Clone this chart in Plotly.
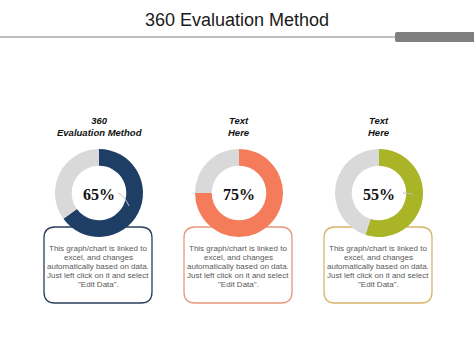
import plotly.graph_objects as go

# ---- data ----
headings = ["360<br>Evaluation Method", "Text<br>Here", "Text<br>Here"]
percents = [65, 75, 55]
ring_colors = ["#1F3E66", "#F47C5B", "#A9B426"]
box_colors = ["#2B3F5C", "#E9967C", "#D7B56A"]
rest_color = "#D9D9D9"
body_lines = ["This graph/chart is linked to", "excel, and changes", "automatically based on data.",
              "Just left click on it and select", "\"Edit Data\"."]
title = "360 Evaluation Method"

W, H = 474, 355
centers_x = [99, 239, 379]
cy = 193
R = 44

fig = go.Figure()

for i, (p, c) in enumerate(zip(percents, ring_colors)):
    cx = centers_x[i]
    fig.add_trace(go.Pie(
        values=[p, 100 - p],
        marker=dict(colors=[c, rest_color], line=dict(width=0)),
        hole=0.62, sort=False, direction="clockwise", rotation=0,
        textinfo="none", hoverinfo="skip", showlegend=False,
        domain=dict(x=[(cx - R) / W, (cx + R) / W], y=[(H - cy - R) / H, (H - cy + R) / H]),
    ))

def rrect(x0, y0, x1, y1, r):
    return (f"M{x0+r},{y0} L{x1-r},{y0} Q{x1},{y0} {x1},{y0+r} L{x1},{y1-r} Q{x1},{y1} {x1-r},{y1} "
            f"L{x0+r},{y1} Q{x0},{y1} {x0},{y1-r} L{x0},{y0+r} Q{x0},{y0} {x0+r},{y0} Z")

shapes = []
annotations = []
# header line and bar
shapes.append(dict(type="line", x0=0, x1=398, y0=37, y1=37, xref="x", yref="y",
                   line=dict(color="#7F7F7F", width=1.2), layer="below"))
shapes.append(dict(type="path", path=rrect(395, 32, 480, 42, 2), xref="x", yref="y",
                   fillcolor="#7F7F7F", line=dict(width=0), layer="below"))

annotations.append(dict(text=title, x=237, y=20, xref="x", yref="y", showarrow=False,
                        font=dict(family="Liberation Sans, Arial", size=18, color="#1A1A1A")))

for i in range(3):
    cx = centers_x[i]
    shapes.append(dict(type="path", path=rrect(cx - 55, 227, cx + 53, 303, 11), xref="x", yref="y",
                       fillcolor="white", line=dict(color=box_colors[i], width=1.3), layer="below"))
    annotations.append(dict(text="<b><i>" + headings[i] + "</i></b>", x=cx, y=126.5, xref="x", yref="y",
                            showarrow=False, align="center",
                            font=dict(family="Liberation Sans, Arial", size=9.5, color="#111111")))
    annotations.append(dict(text="<b>%d%%</b>" % percents[i], x=cx, y=194, xref="x", yref="y",
                            showarrow=False,
                            font=dict(family="Liberation Serif, Times New Roman", size=16, color="#111111")))
    for k, line in enumerate(body_lines):
        annotations.append(dict(text=line, x=cx - 1, y=248 + 9 * k, xref="x", yref="y", showarrow=False,
                                align="center",
                                font=dict(family="Liberation Sans, Arial", size=8, color="#595959")))

# small leader lines
shapes.append(dict(type="path", path="M118,193 Q124,195 129,206", xref="x", yref="y",
                   line=dict(color="#BFBFBF", width=1)))
shapes.append(dict(type="line", x0=403, x1=413, y0=193, y1=194, xref="x", yref="y",
                   line=dict(color="#BFBFBF", width=1)))

fig.update_layout(
    width=W, height=H, margin=dict(l=0, r=0, t=0, b=0),
    paper_bgcolor="white", plot_bgcolor="white",
    xaxis=dict(range=[0, W], visible=False, fixedrange=True),
    yaxis=dict(range=[H, 0], visible=False, fixedrange=True),
    shapes=shapes, annotations=annotations,
)

fig.write_html("out.html")
